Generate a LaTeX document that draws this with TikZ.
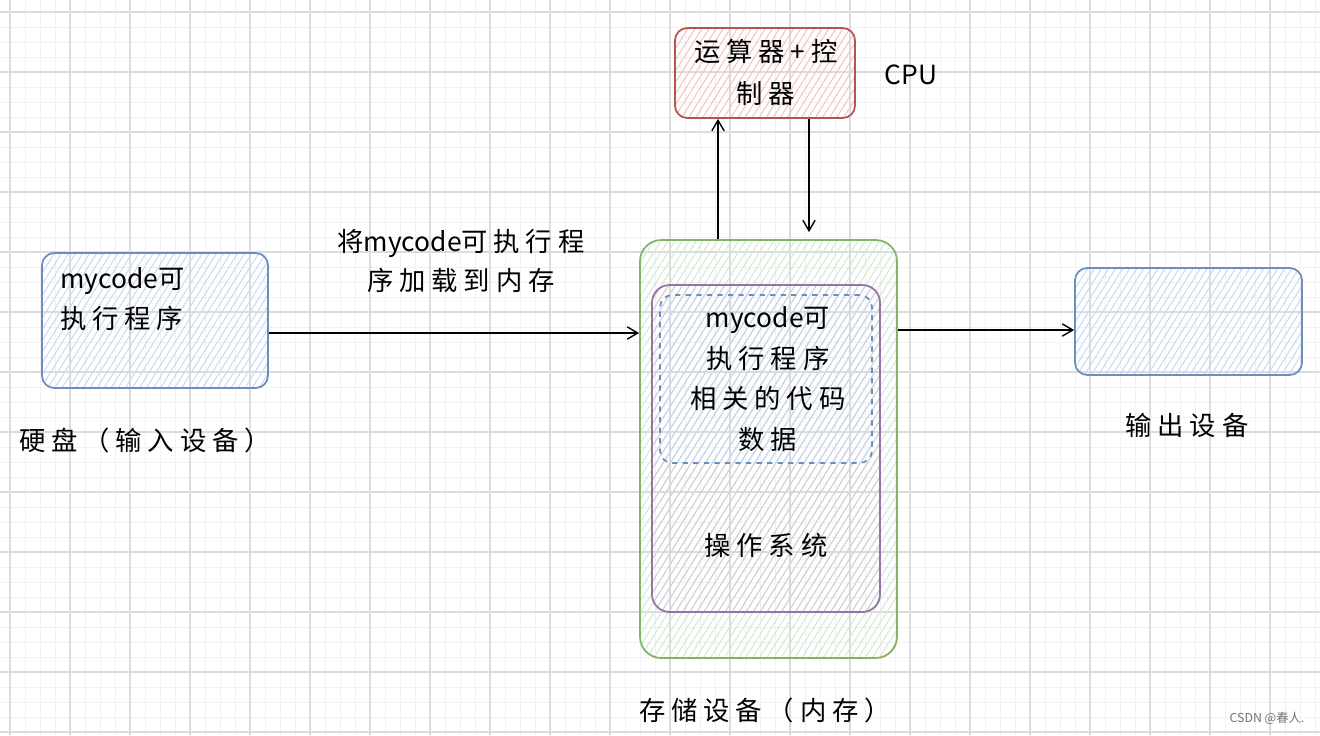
\documentclass[tikz,border=0pt]{standalone}
\usepackage{fontspec}
\setmainfont{Noto Sans CJK SC}
\newfontfamily\handfont[LetterSpace=22]{Noto Sans CJK SC}
\newfontfamily\latinhand{Noto Sans CJK SC}
\newcommand{\lat}[1]{{\latinhand #1}}
\usetikzlibrary{arrows.meta,patterns.meta}

\definecolor{gridmajor}{HTML}{DCDCDC}
\definecolor{gridminor}{HTML}{F1F1F1}
\definecolor{bluedraw}{HTML}{6C8EBF}
\definecolor{bluehatch}{HTML}{C9DBF4}
\definecolor{greendraw}{HTML}{82B366}
\definecolor{greenhatch}{HTML}{D5E8D4}
\definecolor{purpledraw}{HTML}{9673A6}
\definecolor{purplehatch}{HTML}{D6D0DC}
\definecolor{reddraw}{HTML}{B85450}
\definecolor{redhatch}{HTML}{F4C4C2}

\tikzset{
  box/.style={rounded corners=7pt, line width=1pt, inner sep=0pt},
  hatch/.style={pattern={Lines[angle=58,distance=3.4pt,line width=0.6pt]}, pattern color=#1},
  label/.style={font=\handfont\fontsize{15}{22.5}\selectfont, align=center, inner sep=0pt},
  flow/.style={-{Straight Barb[length=6pt,width=7pt]}, line width=0.8pt},
}

\begin{document}
\begin{tikzpicture}[x=0.02cm,y=-0.02cm]
    \useasboundingbox (0,0) rectangle (1320,735);
    \fill[white] (0,0) rectangle (1320,735);
    % grid
    \foreach \x in {10,25,...,1320}{%
      \draw[gridminor,line width=0.5pt] (\x,0) -- (\x,735);
    }
    \foreach \y in {12,27,...,735}{%
      \draw[gridminor,line width=0.5pt] (0,\y) -- (1320,\y);
    }
    \foreach \x in {10,70,...,1320}{%
      \draw[gridmajor,line width=0.6pt] (\x,0) -- (\x,735);
    }
    \foreach \y in {12,72,...,735}{%
      \draw[gridmajor,line width=0.6pt] (0,\y) -- (1320,\y);
    }

    % boxes
    \node[box, draw=bluedraw, hatch=bluehatch, minimum width=4.52cm, minimum height=2.7cm] (hdd) at (155,320.5) {};
    \node[label, anchor=west, align=left] (hddtext) at (60,299) {\lat{mycode}可\\执行程序};
    \node[label] (hddlabel) at (145,440) {硬盘（输入设备）};

    \node[box, rounded corners=12pt, draw=greendraw, hatch=greenhatch, minimum width=5.14cm, minimum height=8.36cm] (mem) at (768.5,449) {};
    \node[box, rounded corners=10pt, draw=purpledraw, hatch=purplehatch, minimum width=4.56cm, minimum height=6.54cm] (os) at (766,448.5) {};
    \node[box, dashed, draw=bluedraw, hatch=bluehatch, minimum width=4.24cm, minimum height=3.36cm] (code) at (766,379) {};
    \node[label, font=\handfont\fontsize{15}{23}\selectfont] (codetext) at (768,379) {\lat{mycode}可\\执行程序\\相关的代码\\数据};
    \node[label] (ostext) at (766,545) {操作系统};
    \node[label] (memlabel) at (765,710) {存储设备（内存）};

    \node[box, draw=reddraw, hatch=redhatch, minimum width=3.6cm, minimum height=1.8cm] (cpu) at (765,73) {};
    \node[label, font=\handfont\fontsize{15}{23.5}\selectfont] (cputext) at (766,72.5) {运算器+控\\制器};
    \node[label, font=\latinhand\fontsize{15}{18}\selectfont] (cpulabel) at (911,75) {CPU};

    \node[box, draw=bluedraw, hatch=bluehatch, minimum width=4.54cm, minimum height=2.14cm] (out) at (1188.5,321.5) {};
    \node[label] (outlabel) at (1187,425) {输出设备};

    \node[label] (loadlabel) at (461,261) {将\lat{mycode}可执行程\\序加载到内存};
    \node[font=\fontsize{7}{8}\selectfont, text=black!55, inner sep=0pt] (mark) at (1267,718) {CSDN @春人.};

    % connectors
    \draw[flow] ([yshift=-0.25cm]hdd.east) -- ([yshift=-0.25cm]hdd.east -| mem.west);
    \draw[flow] ([yshift=-0.17cm]out.west -| mem.east) -- ([yshift=-0.17cm]out.west);
    \draw[flow] ([xshift=-0.94cm]cpu.south |- mem.north) -- ([xshift=-0.94cm]cpu.south);
    \draw[flow, shorten >=4pt] ([xshift=0.88cm]cpu.south) -- ([xshift=0.88cm]cpu.south |- mem.north);

\end{tikzpicture}
\end{document}
